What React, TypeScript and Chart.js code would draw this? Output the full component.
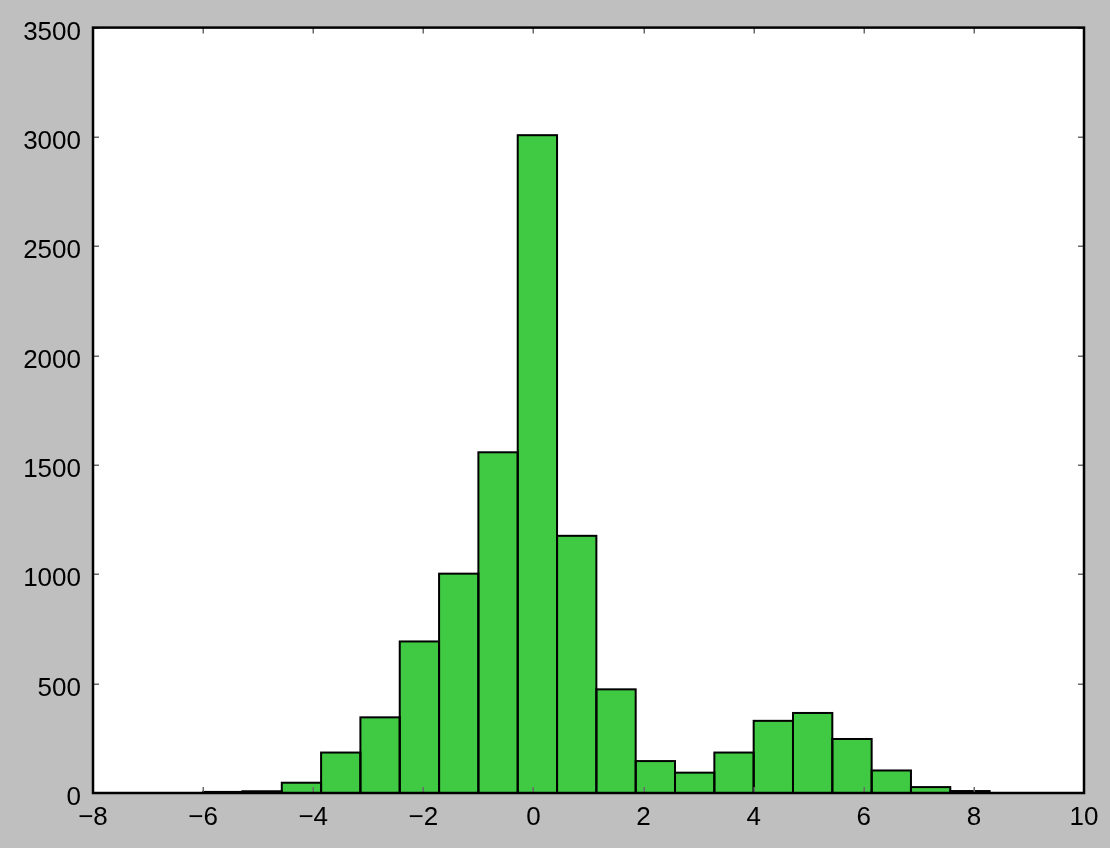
import React, { useEffect, useRef } from "react";
import { Chart, registerables } from "chart.js";

Chart.register(...registerables);

// Histogram bin edges (x units) and counts per bin
const binEdges = [
  -6.0, -5.286, -4.571, -3.857, -3.143, -2.429, -1.714, -1.0, -0.286, 0.429,
  1.143, 1.857, 2.571, 3.286, 4.0, 4.714, 5.429, 6.143, 6.857, 7.571, 8.286,
];
const binCounts = [
  5, 8, 47, 185, 346, 693, 1003, 1558, 3008, 1176, 474, 146, 93, 185, 330, 366,
  247, 103, 27, 9,
];
const xTicks = [-8, -6, -4, -2, 0, 2, 4, 6, 8, 10];
const yTicks = [0, 500, 1000, 1500, 2000, 2500, 3000, 3500];

const BAR_COLOR = "#40c943";
const BG = "#bfbfbf";

const framePlugin = {
  id: "framePlugin",
  beforeDraw(chart: any) {
    const { ctx, chartArea: a } = chart;
    ctx.save();
    ctx.fillStyle = BG;
    ctx.fillRect(0, 0, chart.width, chart.height);
    ctx.fillStyle = "#ffffff";
    ctx.fillRect(a.left, a.top, a.right - a.left, a.bottom - a.top);
    ctx.restore();
  },
  afterDatasetsDraw(chart: any) {
    const { ctx, chartArea: a, scales } = chart;
    ctx.save();
    // bar outlines
    const meta = chart.getDatasetMeta(0);
    ctx.strokeStyle = "#000000";
    ctx.lineWidth = 2;
    meta.data.forEach((bar: any) => {
      const { x, y, base, width } = bar.getProps(["x", "y", "base", "width"], true);
      ctx.strokeRect(x - width / 2, y, width, base - y);
    });
    // inner tick marks
    ctx.strokeStyle = "#6a6a6a";
    ctx.lineWidth = 1.5;
    const tl = 6;
    ctx.beginPath();
    xTicks.forEach((v) => {
      const px = Math.round(scales.x.getPixelForValue(v)) + 0.25;
      ctx.moveTo(px, a.bottom);
      ctx.lineTo(px, a.bottom - tl);
      ctx.moveTo(px, a.top);
      ctx.lineTo(px, a.top + tl);
    });
    yTicks.forEach((v) => {
      const py = Math.round(scales.y.getPixelForValue(v)) + 0.25;
      ctx.moveTo(a.left, py);
      ctx.lineTo(a.left + tl, py);
      ctx.moveTo(a.right, py);
      ctx.lineTo(a.right - tl, py);
    });
    ctx.stroke();
    // frame
    ctx.strokeStyle = "#000000";
    ctx.lineWidth = 2.5;
    ctx.strokeRect(a.left, a.top, a.right - a.left, a.bottom - a.top);
    ctx.restore();
  },
};

export default function App() {
  const ref = useRef<HTMLCanvasElement | null>(null);
  useEffect(() => {
    document.body.style.margin = "0";
    document.body.style.background = BG;
    const canvas = ref.current!;
    const data = binCounts.map((c, i) => ({
      x: (binEdges[i] + binEdges[i + 1]) / 2,
      y: c,
    }));
    const font = { family: "'Liberation Sans', Arial, sans-serif", size: 26 };
    const chart = new Chart(canvas, {
      type: "bar",
      data: {
        datasets: [
          {
            data,
            backgroundColor: BAR_COLOR,
            borderWidth: 0,
            barPercentage: 1,
            categoryPercentage: 1,
          } as any,
        ],
      },
      options: {
        animation: false,
        responsive: false,
        devicePixelRatio: 1,
        layout: { padding: { left: 0, right: 26, top: 25, bottom: 0 } },
        plugins: { legend: { display: false }, tooltip: { enabled: false } },
        scales: {
          x: {
            type: "linear",
            min: -8,
            max: 10,
            offset: false,
            grid: { display: false, drawTicks: false },
            border: { display: false },
            ticks: {
              stepSize: 2,
              color: "#000",
              font,
              padding: 9,
              maxRotation: 0,
              autoSkip: false,
              callback: (v: any) => String(v).replace("-", "\u2212"),
            },
            afterFit: (s: any) => {
              s.height = 55;
            },
          },
          y: {
            type: "linear",
            min: 0,
            max: 3500,
            grid: { display: false, drawTicks: false },
            border: { display: false },
            ticks: {
              stepSize: 500,
              color: "#000",
              font,
              padding: 12,
              labelOffset: 5,
              callback: (v: any) => String(v),
            },
            afterFit: (s: any) => {
              s.width = 93;
            },
          },
        },
      },
      plugins: [framePlugin],
    });
    return () => chart.destroy();
  }, []);
  return (
    <div style={{ width: 1110, height: 848, background: BG }}>
      <canvas ref={ref} width={1110} height={848} style={{ display: "block" }} />
    </div>
  );
}
